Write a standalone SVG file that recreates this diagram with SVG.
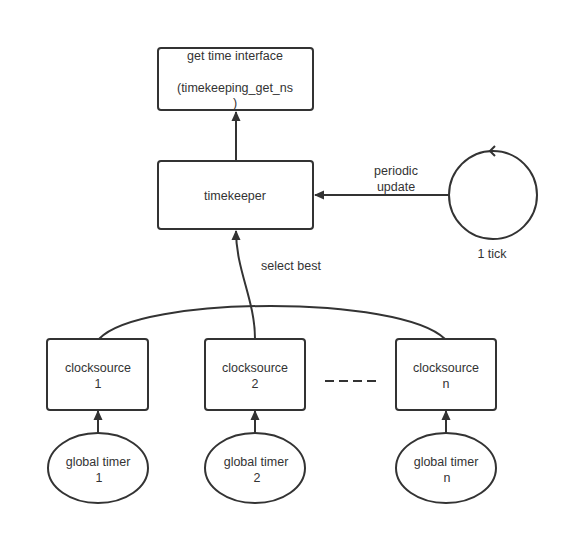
<svg xmlns="http://www.w3.org/2000/svg" width="568" height="536" viewBox="0 0 568 536">
<style>
.box{fill:#fff;stroke:#333;stroke-width:2}
.ln{fill:none;stroke:#333;stroke-width:2}
.t{font-family:"Liberation Sans",Arial,sans-serif;font-size:12.5px;fill:#333;text-anchor:middle}
</style>
<defs>
<marker id="ah" viewBox="0 0 10 10" refX="9" refY="5" markerWidth="10" markerHeight="10" markerUnits="userSpaceOnUse" orient="auto">
<path d="M0,0.5 L10,5 L0,9.5 Z" fill="#333"/>
</marker>
</defs>
<rect width="568" height="536" fill="#fff"/>
<g id="connectors">
<line class="ln" x1="236" y1="161" x2="236" y2="112" marker-end="url(#ah)"/>
<line class="ln" x1="449" y1="195" x2="315" y2="195" marker-end="url(#ah)"/>
<path class="ln" d="M255,339 C255,300 236,270 236,231" marker-end="url(#ah)"/>
<path class="ln" d="M99,339 C140,295 400,295 445,339"/>
<line class="ln" x1="325" y1="381" x2="377" y2="381" stroke-dasharray="9,5"/>
<line class="ln" x1="98" y1="433" x2="98" y2="411" marker-end="url(#ah)"/>
<line class="ln" x1="255" y1="433" x2="255" y2="411" marker-end="url(#ah)"/>
<line class="ln" x1="446" y1="433" x2="446" y2="411" marker-end="url(#ah)"/>
<text class="t" x="396" y="175">periodic</text>
<text class="t" x="396" y="191">update</text>
<text class="t" x="291" y="270">select best</text>
</g>
<g id="get-time-interface">
<rect class="box" x="158" y="48" width="155" height="62" rx="3"/>
<text class="t" x="235" y="60">get time interface</text>
<text class="t" x="235" y="92">(timekeeping_get_ns</text>
<text class="t" x="235" y="107">)</text>
</g>
<g id="timekeeper">
<rect class="box" x="158" y="161" width="155" height="68" rx="3"/>
<text class="t" x="235" y="200">timekeeper</text>
</g>
<g id="tick">
<circle class="ln" cx="493" cy="195" r="44"/>
<path class="ln" d="M495,146 L490,151 L495,156" stroke-width="1.5"/>
<text class="t" x="492" y="258">1 tick</text>
</g>
<g id="clocksource-1">
<rect class="box" x="47" y="339" width="101" height="71" rx="3"/>
<text class="t" x="98" y="372">clocksource</text>
<text class="t" x="98" y="388">1</text>
</g>
<g id="clocksource-2">
<rect class="box" x="205" y="339" width="100" height="71" rx="3"/>
<text class="t" x="255" y="372">clocksource</text>
<text class="t" x="255" y="388">2</text>
</g>
<g id="clocksource-n">
<rect class="box" x="396" y="339" width="100" height="71" rx="3"/>
<text class="t" x="446" y="372">clocksource</text>
<text class="t" x="446" y="388">n</text>
</g>
<g id="global-timer-1">
<ellipse class="box" cx="98" cy="468" rx="50" ry="35"/>
<text class="t" x="98" y="466">global timer</text>
<text class="t" x="99" y="482">1</text>
</g>
<g id="global-timer-2">
<ellipse class="box" cx="255" cy="468" rx="50" ry="35"/>
<text class="t" x="256" y="466">global timer</text>
<text class="t" x="257" y="482">2</text>
</g>
<g id="global-timer-n">
<ellipse class="box" cx="446" cy="468" rx="50" ry="35"/>
<text class="t" x="446" y="466">global timer</text>
<text class="t" x="447" y="482">n</text>
</g>
</svg>
